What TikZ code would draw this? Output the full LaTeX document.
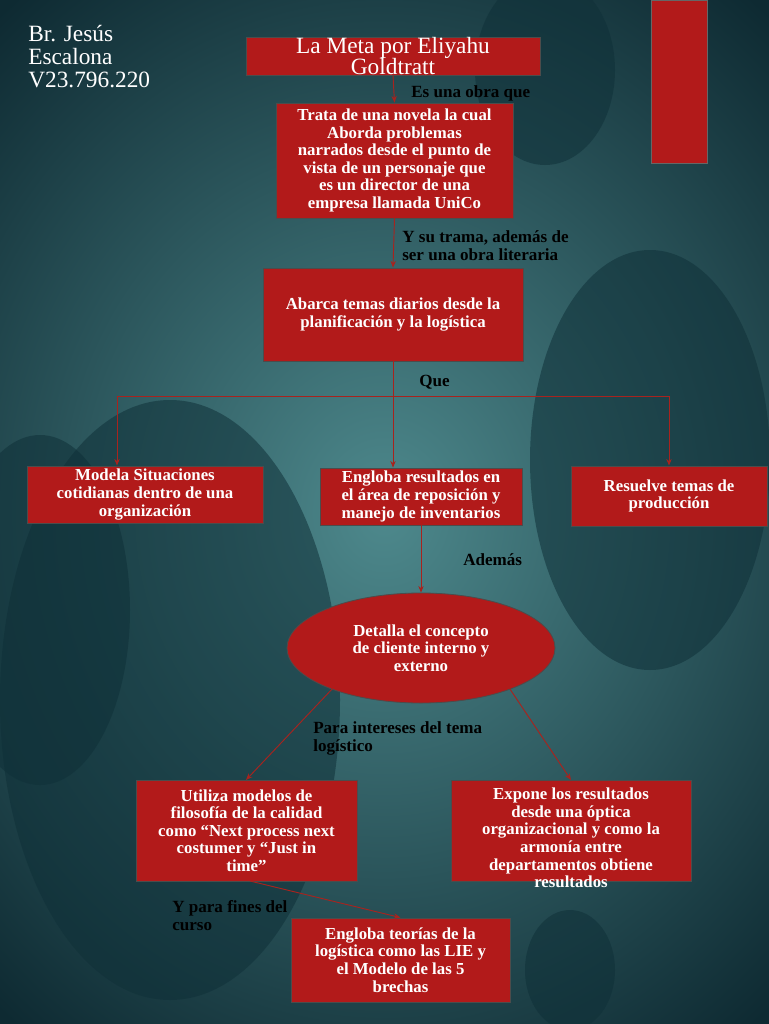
\documentclass[tikz,border=0pt]{standalone}
\usepackage{fontspec}
\setmainfont{Liberation Serif}
\usetikzlibrary{shapes.geometric,arrows.meta}
\definecolor{boxred}{HTML}{B21A1A}
\definecolor{lnred}{HTML}{A8231E}
\definecolor{bgc}{HTML}{3A7C80}
\definecolor{bge}{HTML}{0E2A32}
\definecolor{blob}{HTML}{0F3038}
\tikzset{
 bx/.style={draw=black!70,line width=0.6pt,fill=boxred,text=white,font=\fontsize{12.6}{13.2}\selectfont\bfseries,align=center,inner sep=2pt},
 lbl/.style={text=black,font=\fontsize{12.8}{13.5}\selectfont\bfseries,align=left,anchor=west,inner sep=0},
 con/.style={draw=lnred,line width=0.7pt},
 arr/.style={con,-{Stealth[length=5pt,width=4pt]}}
}
\begin{document}
\begin{tikzpicture}[x=0.75pt,y=-0.75pt]
\useasboundingbox (0,0) rectangle (768,1024);
\shade[inner color=bgc!90!white,outer color=bge] (-200,-150) rectangle (968,1174);
\begin{scope}[opacity=0.55]
\fill[blob] (545,70) ellipse (70 and 95);
\fill[blob] (650,460) ellipse (120 and 210);
\fill[blob] (170,700) ellipse (170 and 300);
\fill[blob] (40,610) ellipse (90 and 175);
\fill[blob] (570,970) ellipse (45 and 60);
\end{scope}
\fill[boxred,draw=black!60] (651,0) rectangle (707,163);
\node[text=white,anchor=north west,align=left,font=\fontsize{17.5}{17.3}\selectfont,inner sep=0] (auth) at (28,25) {Br. Jesús\\Escalona\\V23.796.220};
\node[bx,font=\fontsize{17.5}{16}\selectfont,minimum width=294*0.75pt,minimum height=38*0.75pt,inner sep=0] (t) at (393,56) {La Meta por Eliyahu\\Goldtratt};
\node[bx,minimum width=237*0.75pt,minimum height=115*0.75pt] (b1) at (394.5,160.5) {Trata de una novela la cual\\Aborda problemas\\narrados desde el punto de\\vista de un personaje que\\es un director de una\\empresa llamada UniCo};
\node[bx,minimum width=260*0.75pt,minimum height=93*0.75pt] (b2) at (393,314.5) {Abarca temas diarios desde la\\planificación y la logística};
\node[bx,minimum width=236*0.75pt,minimum height=57*0.75pt] (b3) at (145,494.5) {Modela Situaciones\\cotidianas dentro de una\\organización};
\node[bx,minimum width=202*0.75pt,minimum height=57*0.75pt] (b4) at (421,496.5) {Engloba resultados en\\el área de reposición y\\manejo de inventarios};
\node[bx,minimum width=196*0.75pt,minimum height=60*0.75pt] (b5) at (669,496) {Resuelve temas de\\producción};
\node[bx,ellipse,minimum width=268*0.75pt,minimum height=110*0.75pt,inner sep=0] (e) at (421,648) {Detalla el concepto\\de cliente interno y\\externo};
\node[bx,minimum width=221*0.75pt,minimum height=101*0.75pt] (b6) at (246.5,830.5) {Utiliza modelos de\\filosofía de la calidad\\como “Next process next\\costumer y “Just in\\time”};
\node[bx,minimum width=219*0.75pt,minimum height=84*0.75pt] (b8) at (400.5,960) {Engloba teorías de la\\logística como las LIE y\\el Modelo de las 5\\brechas};
\fill[boxred,draw=black!70,line width=0.6pt] (451,780) rectangle (691,881);
\node[bx,draw=none,fill=none] (b7) at (571,838) {Expone los resultados\\desde una óptica\\organizacional y como la\\armonía entre\\departamentos obtiene\\resultados};
\draw[arr] (t.south) -- (b1.north);
\draw[arr] (b1.south) -- (b2.north);
\coordinate (j) at (393,396);
\coordinate (jl) at (117,396);
\coordinate (jr) at (669,396);
\draw[con] (b2.south) -- (j);
\draw[con] (jl) -- (jr);
\draw[arr] (jl) -- (jl |- b3.north);
\draw[arr] (j) -- (j |- b4.north);
\draw[arr] (jr) -- (b5.north);
\draw[arr] (b4.south) -- (e.north);
\draw[arr] (e.south west) ++(6,2) -- (246,780);
\draw[arr] (e.south east) ++(-6,2) -- (571,780);
\draw[arr] (250,881) -- (b8.north);
\node[lbl] (l1) at (411,93) {Es una obra que};
\node[lbl] (l2) at (402,246) {Y su trama, además de\\ser una obra literaria};
\node[lbl] (l3) at (419,382) {Que};
\node[lbl] (l4) at (463,560) {Además};
\node[lbl] (l5) at (313,738) {Para intereses del tema\\logístico};
\node[lbl] (l6) at (172,916) {Y para fines del\\curso};
\end{tikzpicture}
\end{document}
